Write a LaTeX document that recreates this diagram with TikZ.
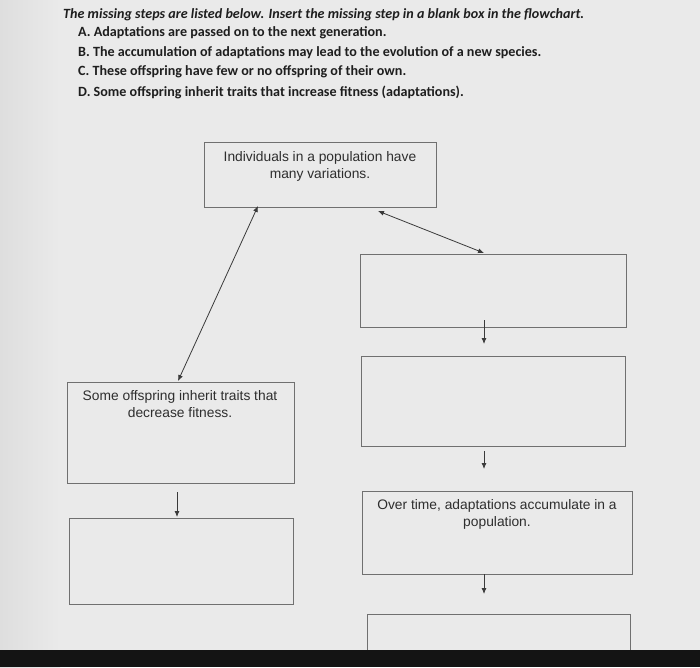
\documentclass[tikz,border=0pt]{standalone}
\usepackage{fontspec}
\setmainfont{Liberation Sans}
\newfontfamily\hdrfont{Carlito}
\usetikzlibrary{arrows.meta,calc}
\definecolor{bgc}{HTML}{EAEAEA}
\definecolor{bgl}{HTML}{DEDEDE}
\definecolor{boxc}{HTML}{707070}
\definecolor{txtc}{HTML}{2E2E2E}
\definecolor{hdrc}{HTML}{1E1E1E}
\definecolor{arrc}{HTML}{3A3A3A}
\definecolor{barc}{HTML}{141414}
\tikzset{
  stepbox/.style={draw=boxc, line width=1pt, anchor=north west, inner sep=0pt, outer sep=0pt},
  boxtext/.style={anchor=north, align=center, text=txtc, font=\fontsize{13.8}{17}\selectfont, inner sep=0pt},
  hdr/.style={anchor=west, text=hdrc, inner sep=0pt, font=\hdrfont\bfseries\fontsize{14.1}{16}\selectfont},
  conn/.style={draw=arrc, line width=0.8pt},
  tip/.style={-{Latex[length=6pt,width=5pt]}},
  dtip/.style={{Latex[length=6pt,width=5pt]}-{Latex[length=6pt,width=5pt]}}
}
\begin{document}
\begin{tikzpicture}[x=1pt,y=-1pt]
\useasboundingbox (0,0) rectangle (700,667);
\fill[bgc] (0,0) rectangle (700,667);
\shade[left color=bgl, right color=bgc] (0,0) rectangle (60,667);
% header
\node[hdr, font=\hdrfont\bfseries\itshape\fontsize{14.1}{16}\selectfont] (title) at (63,15) {The missing steps are listed below. Insert the missing step in a blank box in the flowchart.};
\node[hdr] (la) at (78,33) {A. Adaptations are passed on to the next generation.};
\node[hdr] (lb) at (78,53) {B. The accumulation of adaptations may lead to the evolution of a new species.};
\node[hdr] (lc) at (78,72) {C. These offspring have few or no offspring of their own.};
\node[hdr] (ld) at (78,92) {D. Some offspring inherit traits that increase fitness (adaptations).};
% boxes
\node[stepbox, minimum width=232pt, minimum height=65pt] (top) at (204,142) {};
\node[boxtext] (toptxt) at (320,151) {Individuals in a population have\\many variations.};
\node[stepbox, minimum width=266pt, minimum height=73pt] (r1) at (360,254) {};
\node[stepbox, minimum width=264pt, minimum height=90pt] (r2) at (361,356) {};
\node[stepbox, minimum width=270pt, minimum height=83pt] (r3) at (362,491) {};
\node[boxtext] (r3txt) at (497,499) {Over time, adaptations accumulate in a\\population.};
\node[stepbox, minimum width=263pt, minimum height=50pt] (r4) at (367,614) {};
\node[stepbox, minimum width=227pt, minimum height=101pt] (l1) at (67,382) {};
\node[boxtext] (l1txt) at (180,390) {Some offspring inherit traits that\\decrease fitness.};
\node[stepbox, minimum width=224pt, minimum height=86pt] (l2) at (69,518) {};
% connectors
\draw[conn, dtip] ([xshift=54pt,yshift=1pt]top.south west) -- ([xshift=111pt,yshift=1pt]l1.north west);
\draw[conn, dtip] ([xshift=174pt,yshift=-4pt]top.south west) -- ([xshift=124pt,yshift=1pt]r1.north west);
\draw[conn, tip] ([xshift=124pt,yshift=7pt]r1.south west) -- ([xshift=123pt,yshift=12pt]r2.north west);
\draw[conn, tip] ([xshift=123pt,yshift=-5pt]r2.south west) -- ([xshift=122pt,yshift=22pt]r3.north west);
\draw[conn, tip] ([xshift=122pt,yshift=0pt]r3.south west) -- ([xshift=117pt,yshift=20pt]r4.north west);
\draw[conn, tip] ([xshift=110pt,yshift=-9pt]l1.south west) -- ([xshift=108pt,yshift=1pt]l2.north west);
% black bar
\fill[barc] (0,650) rectangle (700,667);
\end{tikzpicture}
\end{document}
